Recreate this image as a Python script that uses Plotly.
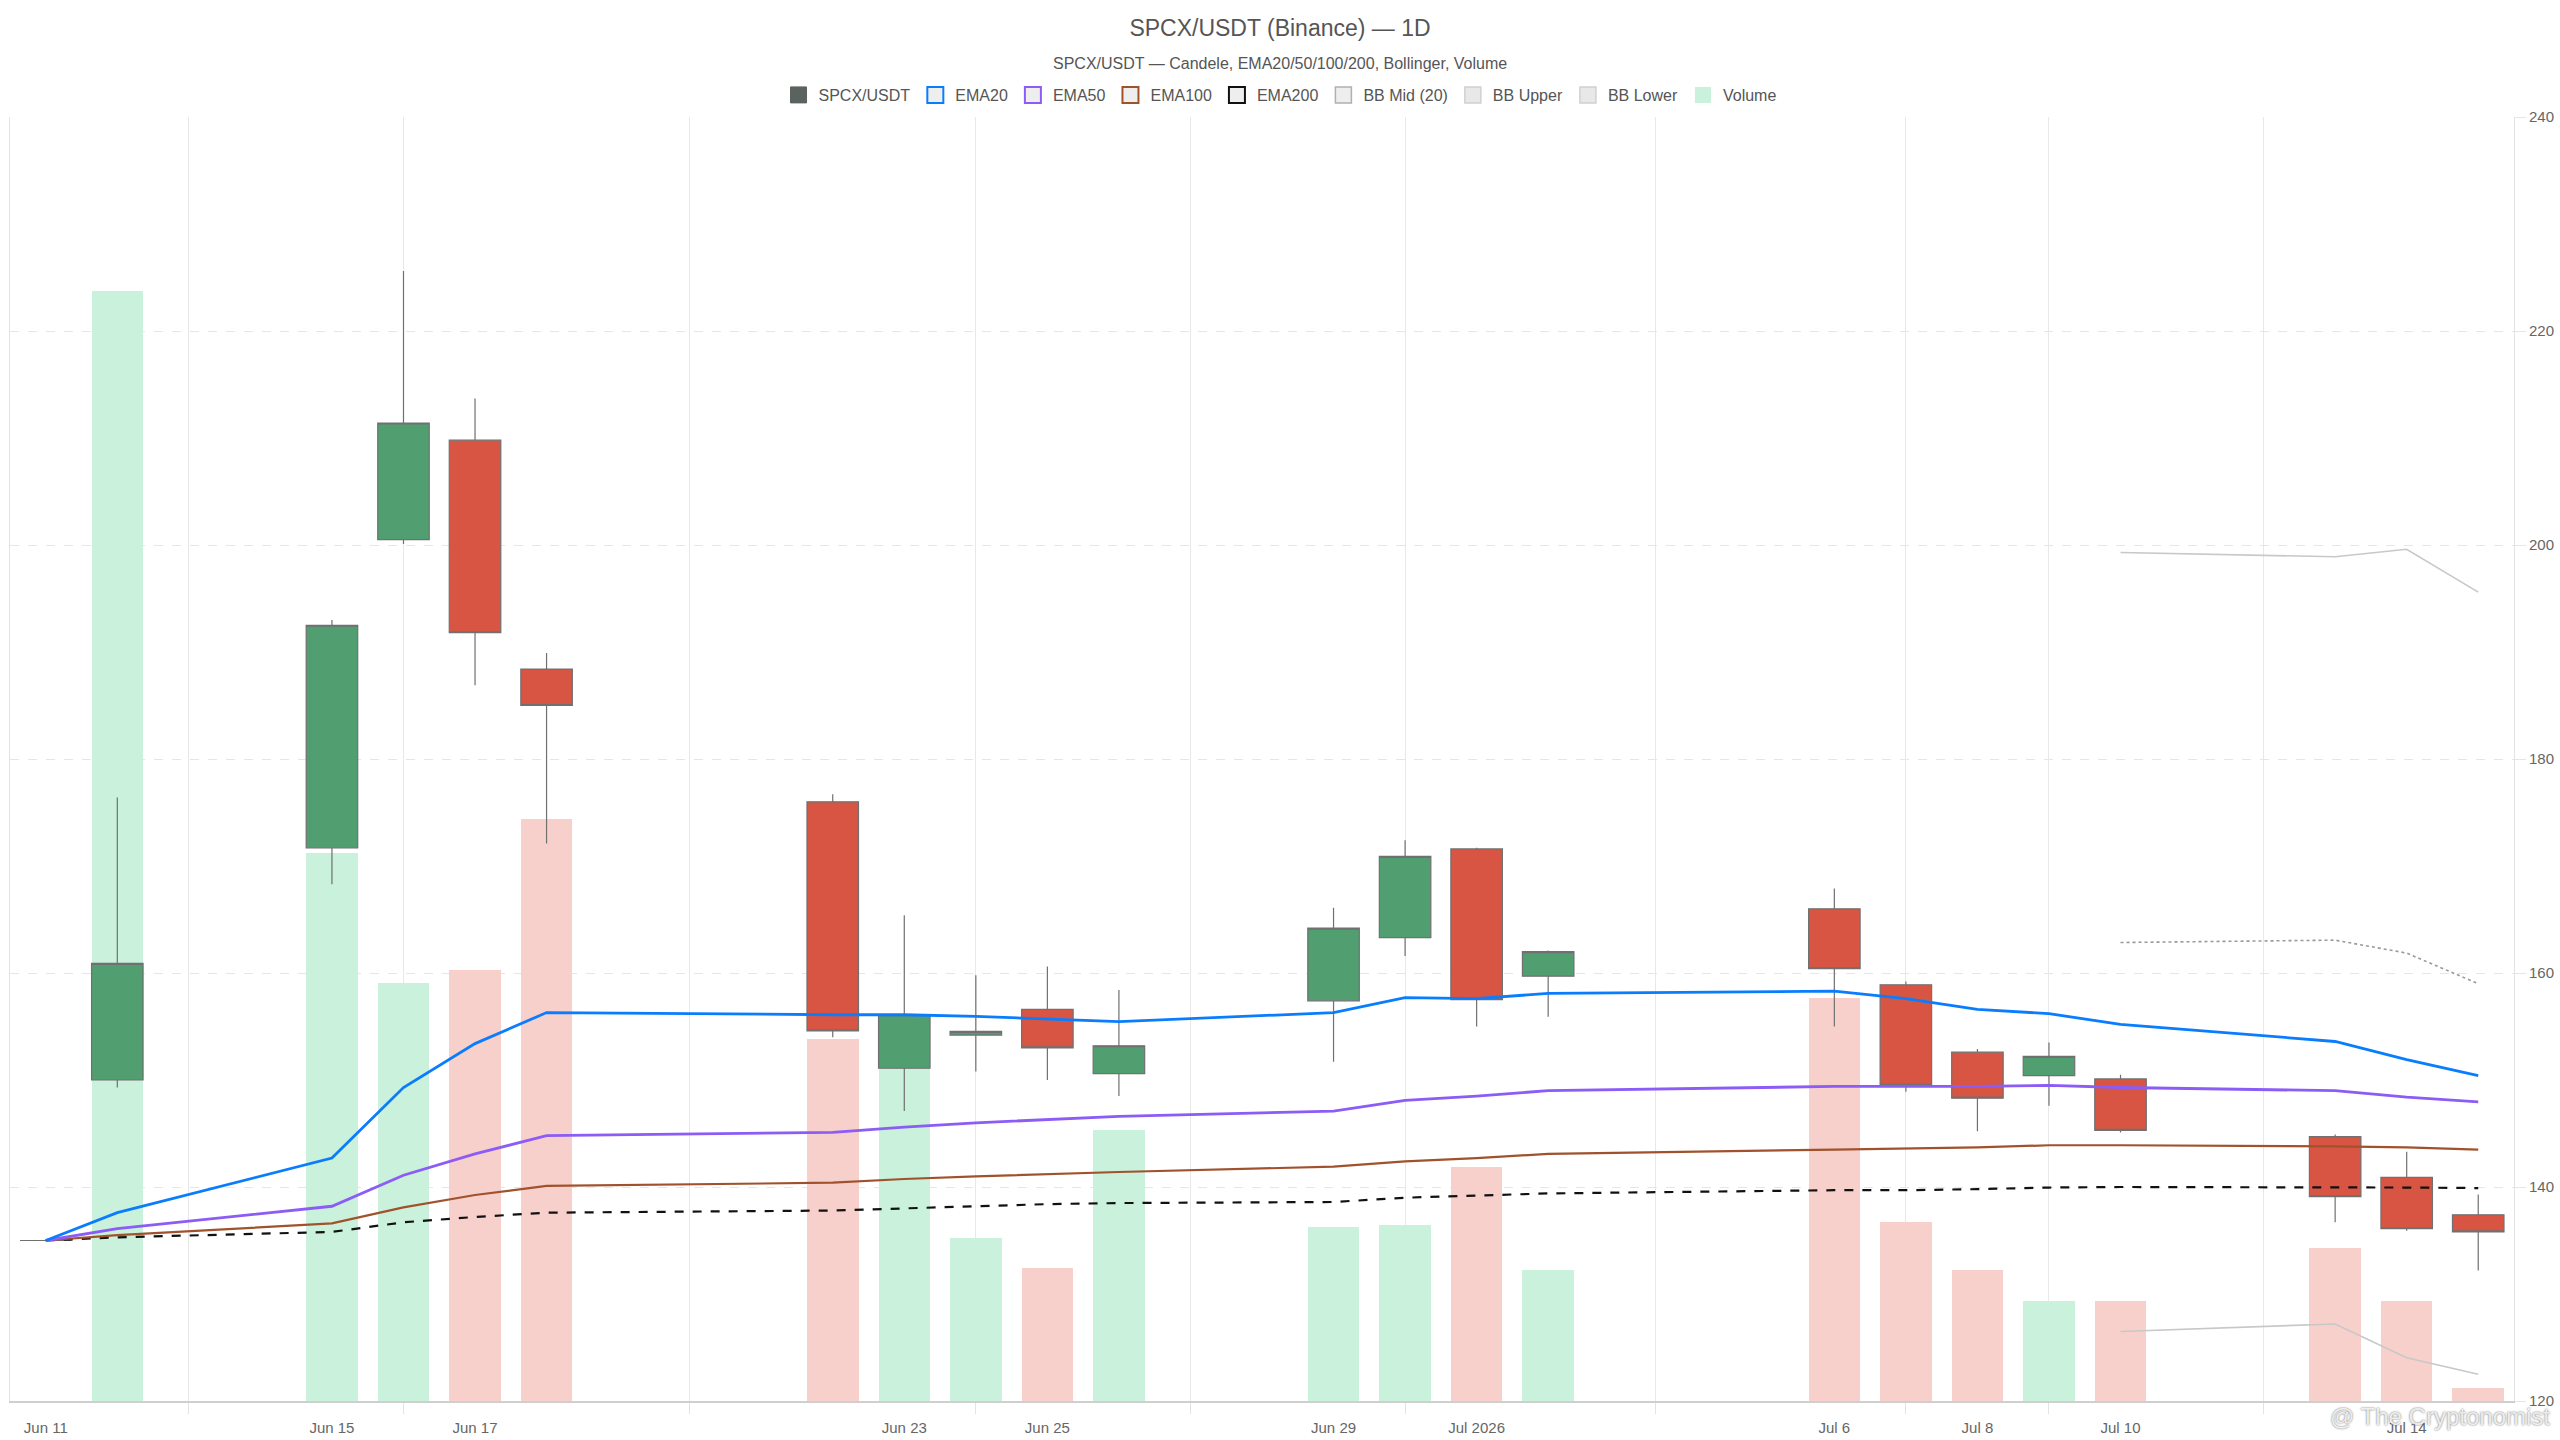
import plotly.graph_objects as go

# ---------------- data ----------------
dates = ['2026-06-11', '2026-06-12', '2026-06-15', '2026-06-16', '2026-06-17', '2026-06-18',
         '2026-06-22', '2026-06-23', '2026-06-24', '2026-06-25', '2026-06-26', '2026-06-29',
         '2026-06-30', '2026-07-01', '2026-07-02', '2026-07-06', '2026-07-07', '2026-07-08',
         '2026-07-09', '2026-07-10', '2026-07-13', '2026-07-14', '2026-07-15']

open_ = [135.0, 150.0, 171.7, 200.5, 209.8, 188.4, 176.0, 151.1, 154.2, 156.6, 150.6, 157.4,
         163.3, 171.6, 159.7, 166.0, 158.9, 152.6, 150.4, 150.1, 144.7, 140.9, 137.4]
high = [135.0, 176.4, 193.0, 225.6, 213.7, 189.9, 176.7, 165.4, 159.8, 160.6, 158.4, 166.1,
        172.4, 171.7, 162.1, 167.9, 159.2, 152.9, 153.5, 150.5, 144.9, 143.3, 139.3]
low = [135.0, 149.3, 168.3, 200.1, 186.9, 172.1, 154.0, 147.1, 150.8, 150.0, 148.5, 151.7,
       161.6, 155.0, 155.9, 155.0, 148.9, 145.2, 147.6, 145.1, 136.7, 135.9, 132.2]
close = [135.0, 160.9, 192.5, 211.4, 191.8, 185.0, 154.6, 156.1, 154.55, 153.0, 153.2, 164.2,
         170.9, 157.5, 162.0, 160.4, 149.5, 148.3, 152.2, 145.3, 139.1, 136.1, 135.8]

volume = [0, 2498, 1233, 941, 970, 1310, 815, 749, 367, 299, 610, 392,
          396, 527, 295, 907, 403, 295, 225, 225, 344, 225, 29]

ema20 = [135.0, 137.6, 142.7, 149.3, 153.4, 156.3, 156.1, 156.1, 155.95, 155.7, 155.45, 156.3,
         157.7, 157.6, 158.1, 158.3, 157.6, 156.6, 156.2, 155.2, 153.6, 151.9, 150.4]
ema50 = [135.0, 136.1, 138.2, 141.1, 143.1, 144.8, 145.1, 145.6, 146.0, 146.3, 146.6, 147.1,
         148.1, 148.5, 149.0, 149.4, 149.4, 149.4, 149.5, 149.3, 149.0, 148.4, 147.95]
ema100 = [135.0, 135.5, 136.6, 138.1, 139.25, 140.1, 140.4, 140.75, 141.0, 141.2, 141.4, 141.9,
          142.4, 142.7, 143.1, 143.5, 143.6, 143.7, 143.9, 143.9, 143.8, 143.7, 143.5]
ema200 = [135.0, 135.3, 135.8, 136.7, 137.2, 137.6, 137.8, 138.0, 138.2, 138.4, 138.5, 138.6,
          139.0, 139.2, 139.4, 139.7, 139.7, 139.8, 139.95, 140.0, 140.0, 139.95, 139.9]

bb_upper = [None] * 19 + [199.3, 198.9, 199.6, 195.6]
bb_mid = [None] * 19 + [162.85, 163.07, 161.86, 159.0]
bb_lower = [None] * 19 + [126.5, 127.2, 124.05, 122.5]

xtick_vals = ['2026-06-11', '2026-06-15', '2026-06-17', '2026-06-23', '2026-06-25', '2026-06-29',
              '2026-07-01', '2026-07-06', '2026-07-08', '2026-07-10', '2026-07-14']
xtick_text = ['Jun 11', 'Jun 15', 'Jun 17', 'Jun 23', 'Jun 25', 'Jun 29',
              'Jul 2026', 'Jul 6', 'Jul 8', 'Jul 10', 'Jul 14']
xgrid_vals = ['2026-06-13', '2026-06-16', '2026-06-20', '2026-06-24', '2026-06-27', '2026-06-30',
              '2026-07-03 12:00', '2026-07-07', '2026-07-09', '2026-07-12']
ytick_vals = [120, 140, 160, 180, 200, 220, 240]

# ---------------- style ----------------
FONT = 'Liberation Sans, Arial, sans-serif'
GREEN = '#519e70'
RED = '#d85543'
WICK = '#707070'
VOL_UP = '#c9f1dc'
VOL_DN = '#f8d0cb'
C_EMA20 = '#0a7dff'
C_EMA50 = '#8b5cf6'
C_EMA100 = '#a0522d'
C_EMA200 = '#111111'

vol_colors = [VOL_UP if c >= o else VOL_DN for o, c in zip(open_, close)]

fig = go.Figure()

# volume (base y axis, drawn underneath)
fig.add_trace(go.Bar(x=dates, y=volume, marker=dict(color=vol_colors, line=dict(width=0)),
                     width=0.72 * 86400000, yaxis='y', showlegend=False, name='Volume'))

# Bollinger
fig.add_trace(go.Scatter(x=dates, y=bb_upper, mode='lines', yaxis='y2', showlegend=False,
                         line=dict(color='#c8c8c8', width=1.6), name='BB Upper'))
fig.add_trace(go.Scatter(x=dates, y=bb_lower, mode='lines', yaxis='y2', showlegend=False,
                         line=dict(color='#c8c8c8', width=1.6), name='BB Lower'))
fig.add_trace(go.Scatter(x=dates, y=bb_mid, mode='lines', yaxis='y2', showlegend=False,
                         line=dict(color='#999999', width=1.6, dash='dot'), name='BB Mid (20)'))

# EMAs
fig.add_trace(go.Scatter(x=dates, y=ema200, mode='lines', yaxis='y2', showlegend=False,
                         line=dict(color=C_EMA200, width=2.2, dash='dash'), name='EMA200'))
fig.add_trace(go.Scatter(x=dates, y=ema100, mode='lines', yaxis='y2', showlegend=False,
                         line=dict(color=C_EMA100, width=2.2), name='EMA100'))
fig.add_trace(go.Scatter(x=dates, y=ema50, mode='lines', yaxis='y2', showlegend=False,
                         line=dict(color=C_EMA50, width=2.8), name='EMA50'))
fig.add_trace(go.Scatter(x=dates, y=ema20, mode='lines', yaxis='y2', showlegend=False,
                         line=dict(color=C_EMA20, width=2.8), name='EMA20'))

# candles on top
fig.add_trace(go.Candlestick(x=dates, open=open_, high=high, low=low, close=close,
                             yaxis='y2', showlegend=False, name='SPCX/USDT',
                             increasing=dict(fillcolor=GREEN, line=dict(color=WICK, width=1.2)),
                             decreasing=dict(fillcolor=RED, line=dict(color=WICK, width=1.2)),
                             whiskerwidth=0))

# legend entries
legend_items = [
    ('SPCX/USDT', '#5b635e', '#5b635e', 1),
    ('EMA20', '#eeeeee', C_EMA20, 2),
    ('EMA50', '#eeeeee', C_EMA50, 2),
    ('EMA100', '#eeeeee', C_EMA100, 2),
    ('EMA200', '#eeeeee', C_EMA200, 2),
    ('BB Mid (20)', '#eeeeee', '#b0b0b0', 1.5),
    ('BB Upper', '#e8e8e8', '#d0d0d0', 1.5),
    ('BB Lower', '#e8e8e8', '#d0d0d0', 1.5),
    ('Volume', VOL_UP, VOL_UP, 0),
]
for name, fillc, linec, lw in legend_items:
    fig.add_trace(go.Scatter(x=[None], y=[None], mode='markers', yaxis='y2', name=name,
                             marker=dict(symbol='square', size=16, color=fillc,
                                         line=dict(color=linec, width=lw))))

W, H = 2560, 1440
L, R, T, B = 10, 46, 117, 39
plot_h = H - T - B
plot_w = W - L - R

fig.update_layout(
    width=W, height=H,
    margin=dict(l=L, r=R, t=T, b=B, autoexpand=False),
    paper_bgcolor='white', plot_bgcolor='white',
    font=dict(family=FONT, color='#666666', size=15),
    title=dict(text='SPCX/USDT (Binance) — 1D', x=0.5, xref='container', xanchor='center',
               y=1 - 28 / H, yref='container', yanchor='middle',
               font=dict(family=FONT, size=23, color='#555555')),
    showlegend=True,
    legend=dict(orientation='h', x=0.5072, xanchor='center', y=1 + 22 / plot_h, yanchor='middle',
                font=dict(family=FONT, size=16, color='#555555'), bgcolor='rgba(0,0,0,0)',
                itemsizing='trace', traceorder='normal'),
    boxgap=0.28, boxgroupgap=0,
    bargap=0,
    xaxis=dict(type='date', range=['2026-06-10 12:00', '2026-07-15 12:00'],
               rangeslider=dict(visible=False),
               tickmode='array', tickvals=xtick_vals, ticktext=xtick_text,
               ticks='outside', ticklen=12, tickcolor='rgba(0,0,0,0)',
               tickfont=dict(family=FONT, size=15, color='#666666'),
               showgrid=False, zeroline=False,
               showline=True, linecolor='#cfcfcf', linewidth=1.5,
               minor=dict(tickmode='array', tickvals=xgrid_vals, ticks='outside', ticklen=11,
                          tickcolor='#e3e3e3', tickwidth=1, showgrid=True,
                          gridcolor='#e8e8e8', gridwidth=1)),
    yaxis=dict(range=[0, 2889], showticklabels=False, showgrid=False, zeroline=False,
               ticks='', showline=True, linecolor='#e3e3e3', linewidth=1, side='left',
               fixedrange=True),
    yaxis2=dict(overlaying='y', side='right', range=[120, 240], tickmode='array',
                tickvals=ytick_vals, showgrid=True, gridcolor='#e6e6e6', griddash='dash',
                gridwidth=1, zeroline=False, ticks='outside', ticklen=11, tickcolor='#e6e6e6',
                showline=True, linecolor='#e3e3e3', linewidth=1,
                tickfont=dict(family=FONT, size=15, color='#666666')),
)

fig.add_annotation(text='SPCX/USDT — Candele, EMA20/50/100/200, Bollinger, Volume',
                   xref='paper', yref='paper', x=(1280 - L) / plot_w, y=1 + (T - 64) / plot_h,
                   xanchor='center', yanchor='middle', showarrow=False,
                   font=dict(family=FONT, size=16, color='#555555'))

wm_x = (2552 - L) / plot_w
wm_y = -(1416 - (H - B)) / plot_h
try:
    wm = go.layout.Annotation(text='@ The Cryptonomist', xref='paper', yref='paper',
                              x=wm_x, y=wm_y, xanchor='right', yanchor='middle', showarrow=False,
                              font=dict(family=FONT, size=24, color='rgba(255,255,255,0.85)',
                                        shadow='0px 0px 2px rgba(0,0,0,0.75)'))
except Exception:
    wm = go.layout.Annotation(text='@ The Cryptonomist', xref='paper', yref='paper',
                              x=wm_x, y=wm_y, xanchor='right', yanchor='middle', showarrow=False,
                              font=dict(family=FONT, size=24, color='rgba(160,160,160,0.85)'))
fig.add_annotation(wm)

fig.write_html('out.html')
